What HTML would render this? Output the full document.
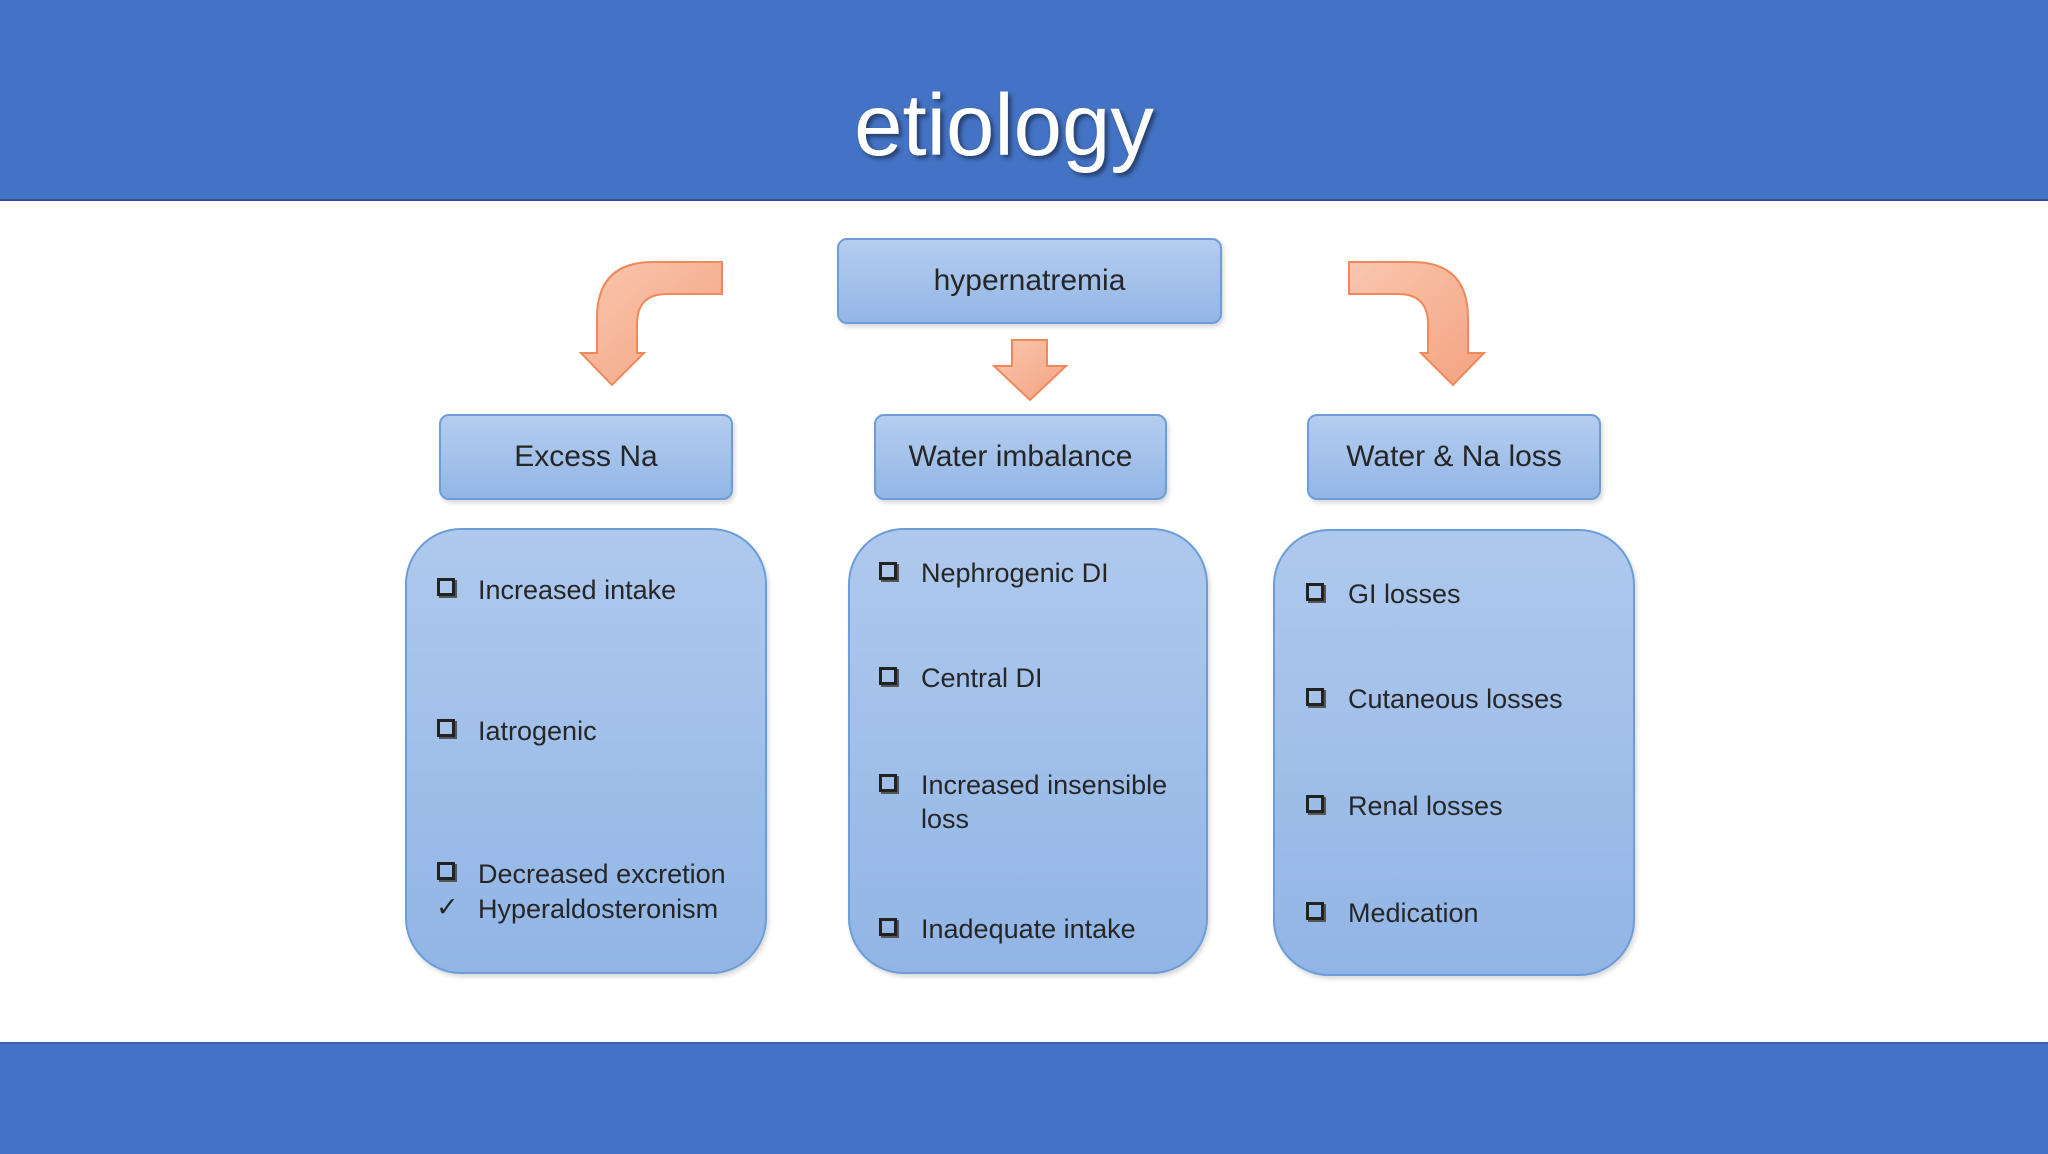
<!DOCTYPE html>
<html><head><meta charset="utf-8"><style>
body{margin:0;width:2048px;height:1152px;position:relative;background:#fff;font-family:"Liberation Sans",sans-serif;overflow:hidden;color:#262626}
.hdr{position:absolute;left:0;top:0;width:2048px;height:199px;background:#4472c4;border-bottom:2px solid #2f528f}
.ftr{position:absolute;left:0;top:1042px;width:2048px;height:110px;background:#4472c4;border-top:2px solid #3a64b0}
.title{position:absolute;left:0;width:2008px;top:76px;text-align:center;color:#fff;font-size:87px;text-shadow:3px 3px 4px rgba(0,0,0,.45)}
.b{position:absolute;box-sizing:border-box;border:2px solid #6d9dd8;background:linear-gradient(#b5cdef,#92b6e6);display:flex;align-items:center;justify-content:center;font-size:30px;box-shadow:2px 3px 4px rgba(0,0,0,.15)}
.s{border-radius:10px}
.big{border-radius:56px;background:linear-gradient(#afc9ed,#91b5e6)}
.t{position:absolute;font-size:27px;line-height:34px;white-space:nowrap}
.cb{position:absolute;width:18px;height:18px;border:3px solid #222;box-sizing:border-box;box-shadow:2px 2px 0 #555}
</style></head><body>
<div class="hdr"></div><div class="title">etiology</div>
<div class="ftr"></div>
<svg width="2048" height="1152" style="position:absolute;left:0;top:0">
<defs><linearGradient id="g" x1="0" y1="0" x2="1" y2="1"><stop offset="0" stop-color="#f9c7b0"/><stop offset="1" stop-color="#f4a27f"/></linearGradient></defs>
<path d="M722 262 L722 294 L667 294 Q637 294 637 324 L637 353 L644 353 L612 385 L581 353 L597 353 L597 318 Q597 262 653 262 Z" fill="url(#g)" stroke="#ee8a5a" stroke-width="2"/>
<path d="M1349 262 L1349 294 L1398 294 Q1428 294 1428 324 L1428 353 L1421 353 L1453 385 L1484 353 L1468 353 L1468 318 Q1468 262 1412 262 Z" fill="url(#g)" stroke="#ee8a5a" stroke-width="2"/>
<path d="M1012 340 L1047 340 L1047 366 L1066 366 L1030 400 L994 366 L1012 366 Z" fill="url(#g)" stroke="#ee8a5a" stroke-width="2"/>
</svg>
<div class="b s" style="left:837px;top:238px;width:385px;height:86px">hypernatremia</div>
<div class="b s" style="left:439px;top:414px;width:294px;height:86px">Excess Na</div>
<div class="b s" style="left:874px;top:414px;width:293px;height:86px">Water imbalance</div>
<div class="b s" style="left:1307px;top:414px;width:294px;height:86px">Water &amp; Na loss</div>
<div class="b big" style="left:405px;top:528px;width:362px;height:446px"></div>
<div class="b big" style="left:848px;top:528px;width:360px;height:446px"></div>
<div class="b big" style="left:1273px;top:529px;width:362px;height:447px"></div>

<div class="cb" style="left:437px;top:578px"></div><div class="t" style="left:478px;top:573px">Increased intake</div>
<div class="cb" style="left:437px;top:719px"></div><div class="t" style="left:478px;top:714px">Iatrogenic</div>
<div class="cb" style="left:437px;top:862px"></div><div class="t" style="left:478px;top:857px">Decreased excretion</div>
<div class="t" style="left:436px;top:890px">✓</div><div class="t" style="left:478px;top:892px">Hyperaldosteronism</div>

<div class="cb" style="left:879px;top:562px"></div><div class="t" style="left:921px;top:556px">Nephrogenic DI</div>
<div class="cb" style="left:879px;top:667px"></div><div class="t" style="left:921px;top:661px">Central DI</div>
<div class="cb" style="left:879px;top:774px"></div><div class="t" style="left:921px;top:768px">Increased insensible<br>loss</div>
<div class="cb" style="left:879px;top:918px"></div><div class="t" style="left:921px;top:912px">Inadequate intake</div>

<div class="cb" style="left:1306px;top:583px"></div><div class="t" style="left:1348px;top:577px">GI losses</div>
<div class="cb" style="left:1306px;top:688px"></div><div class="t" style="left:1348px;top:682px">Cutaneous losses</div>
<div class="cb" style="left:1306px;top:795px"></div><div class="t" style="left:1348px;top:789px">Renal losses</div>
<div class="cb" style="left:1306px;top:902px"></div><div class="t" style="left:1348px;top:896px">Medication</div>
</body></html>
